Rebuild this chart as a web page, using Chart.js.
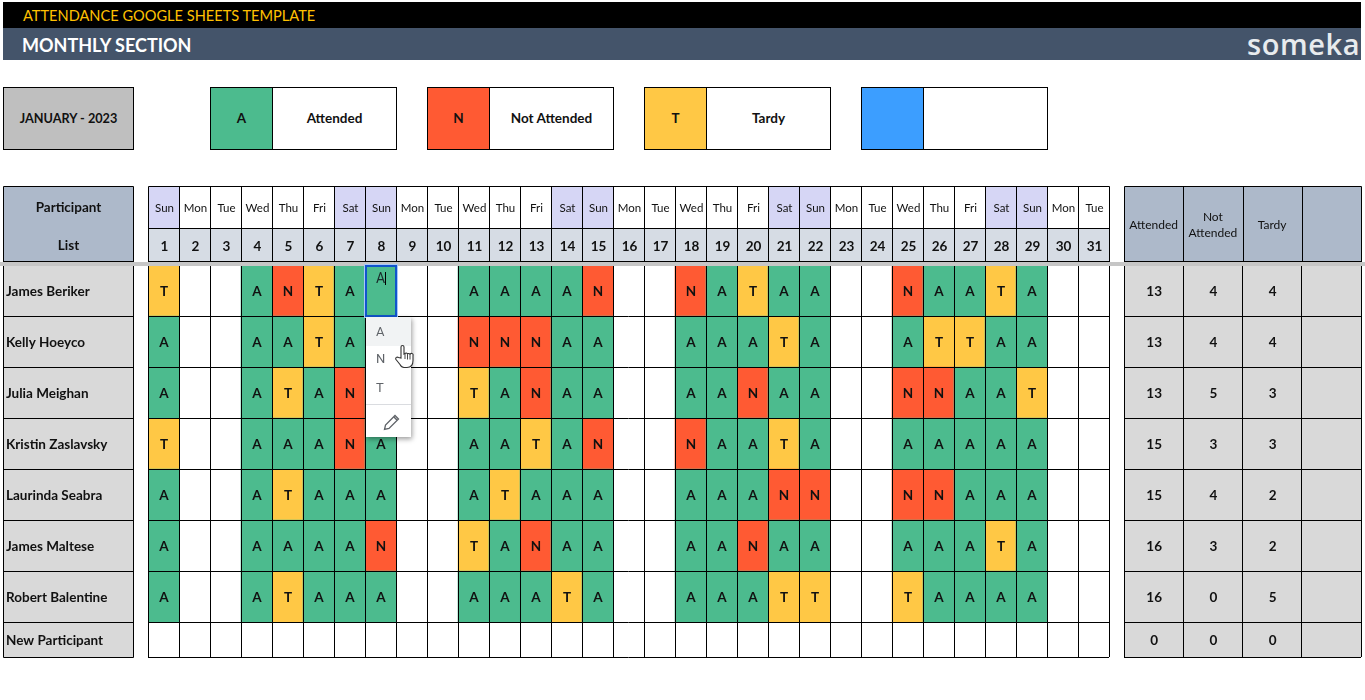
<!DOCTYPE html>
<html>
<head>
<meta charset="utf-8">
<title>Attendance</title>
<script src="https://cdn.jsdelivr.net/npm/chart.js@4"></script>
<style>
  html, body { margin: 0; padding: 0; background: #fff; width: 1365px; height: 700px; overflow: hidden; }
  body { font-family: Lato, sans-serif; color: #111; }
  .box { position: absolute; box-sizing: border-box; }
  .cell { display: flex; align-items: center; justify-content: center; font-weight: bold; font-size: 13.5px; border: 1px solid #000; padding-bottom: 2px; }
  canvas { position: absolute; top: 0; }
  .pick { position: absolute; left: 10px; font: 13px Roboto, sans-serif; color: #5f6368; transform: translateY(-50%); }
</style>
</head>
<body>
<div class="box" style="left:3px;top:2px;width:1358px;height:26px;background:#000"></div>
<div class="box" style="left:3px;top:28px;width:1358px;height:32px;background:#44546a"></div>
<div class="box" style="left:23px;top:7px;font-size:14.6px;color:#ffc000;white-space:nowrap">ATTENDANCE GOOGLE SHEETS TEMPLATE</div>
<div class="box" style="left:22px;top:34px;font-size:18px;font-weight:bold;color:#fff;white-space:nowrap">MONTHLY SECTION</div>
<div class="box" style="left:1247px;top:24px;font:600 29px 'Open Sans',sans-serif;letter-spacing:.6px;color:#e8ebee;white-space:nowrap">someka</div>

<div class="box cell" style="left:3px;top:87px;width:131px;height:63px;background:#bfbfbf;font-size:12.7px">JANUARY - 2023</div>
<div id="legend"></div>

<canvas id="sheet" width="1365" height="700" style="left:0"></canvas>
<canvas id="totals" width="245" height="700" style="left:1120px"></canvas>

<div class="box" style="left:0;top:262px;width:1365px;height:4px;background:#c6c6c6"></div>

<!-- cell being edited, with its dropdown -->
<div class="box" style="left:364px;top:264px;width:34px;height:54px;border:1px solid #a8c7fa"></div>
<div class="box" style="left:365px;top:265px;width:32px;height:52px;border:2px solid #1155cc"></div>
<div class="box" style="left:376px;top:270px;font:14px Roboto,sans-serif;color:#1a2b2b">A</div>
<div class="box" style="left:385px;top:272px;width:1px;height:13px;background:#000"></div>
<div class="box" style="left:366px;top:317px;width:45px;height:120px;background:#fff;box-shadow:1px 2px 5px rgba(0,0,0,.4)">
  <div class="box" style="left:0;top:0;width:45px;height:29px;background:#f1f3f4"></div>
  <div class="pick" style="top:14px">A</div>
  <div class="pick" style="top:41px">N</div>
  <div class="pick" style="top:70px">T</div>
  <div class="box" style="left:0;top:87px;width:45px;height:1px;background:#dadce0"></div>
  <svg class="box" style="left:17px;top:96px" width="17" height="18" viewBox="0 0 17 18">
    <path d="M1.500 16.500l1-4.500L12 2.500l3.500 3.500L6 15.500z" fill="#fff" stroke="#5f6368" stroke-width="1.300"/><path d="M11 4l3 3" stroke="#5f6368" stroke-width="1.500"/>
  </svg>
  <svg class="box" style="left:29px;top:27px" width="20" height="25" viewBox="0 0 20 25">
    <path d="M6 14V3a1.500 1.500 0 0 1 3 0v7l1-.5a1.500 1.500 0 0 1 2.500.500 1.500 1.500 0 0 1 2.500.500 1.500 1.500 0 0 1 3 1v5c0 4-2 7-6 7H9c-2 0-3-1-4-3l-4-5c-1-2 1-3 2.500-2z" fill="#fff" stroke="#333" stroke-width="1.100"/>
    <path d="M10 10v5M12.500 10.500v5M15 11.500v4" stroke="#333" stroke-width=".9"/>
  </svg>
</div>

<script>
var days = ['1','2','3','4','5','6','7','8','9','10','11','12','13','14','15','16','17','18','19','20','21','22','23','24','25','26','27','28','29','30','31'];
var dayNames = ['Sun','Mon','Tue','Wed','Thu','Fri','Sat','Sun','Mon','Tue','Wed','Thu','Fri','Sat','Sun','Mon','Tue','Wed','Thu','Fri','Sat','Sun','Mon','Tue','Wed','Thu','Fri','Sat','Sun','Mon','Tue'];
var participants = ['James Beriker','Kelly Hoeyco','Julia Meighan','Kristin Zaslavsky','Laurinda Seabra','James Maltese','Robert Balentine','New Participant'];

// one string per person, one letter per day, '.' = no entry
var jamesBeriker    = 'T..ANTAA..AAAAN..NATAA..NAATA..';
var kellyHoeyco     = 'A..AATAN..NNNAA..AAATA..ATTAA..';
var juliaMeighan    = 'A..ATANA..TANAA..AANAA..NNAAT..';
var kristinZaslavsky = 'T..AAANA..AATAN..NAATA..AAAAA..';
var laurindaSeabra  = 'A..ATAAA..ATAAA..AAANN..NNAAA..';
var jamesMaltese    = 'A..AAAAN..TANAA..AANAA..AAATA..';
var robertBalentine = 'A..ATAAA..AAATA..AAATT..TAAAA..';
var newParticipant  = '...............................';
var attendance = [jamesBeriker, kellyHoeyco, juliaMeighan, kristinZaslavsky, laurindaSeabra, jamesMaltese, robertBalentine, newParticipant];

var statusCodes = ['A', 'N', 'T'];
var statusNames = ['Attended', 'Not Attended', 'Tardy'];
var statusColors = ['#4cbb8e', '#ff5a33', '#ffc845'];
var spareColor = '#3c9eff';

var totalLabels = ['Attended', ['Not', 'Attended'], 'Tardy', ''];
var attendedTotals = [13, 13, 13, 15, 15, 16, 16, 0];
var notAttendedTotals = [4, 4, 5, 3, 4, 3, 0, 0];
var tardyTotals = [4, 4, 3, 3, 2, 2, 5, 0];

var FONT = 'Lato, sans-serif';
var INK = '#111';
var HEADER_TOP = 187;
var LAST_ROW = 392 / 51;   // new participant row is shorter than the others

function rowRange(i) { return [i, i === 7 ? LAST_ROW : i + 1]; }
var rowEdges = [0, 1, 2, 3, 4, 5, 6, 7, LAST_ROW];
var rowMiddles = participants.map(function (p, i) { var r = rowRange(i); return (r[0] + r[1]) / 2; });

/* legend boxes */
var legendLefts = [210, 427, 644, 861];
var legendHtml = '';
legendLefts.forEach(function (left, i) {
  legendHtml += '<div class="box cell" style="left:' + left + 'px;top:87px;width:63px;height:63px;background:' + (statusColors[i] || spareColor) + '">' + (statusCodes[i] || '') + '</div>' +
    '<div class="box cell" style="left:' + (left + 62) + 'px;top:87px;width:125px;height:63px">' + (statusNames[i] || '') + '</div>';
});
document.getElementById('legend').innerHTML = legendHtml;

function line(ctx, x1, y1, x2, y2) {
  ctx.beginPath();
  ctx.moveTo(Math.round(x1) + 0.5, Math.round(y1) + 0.5);
  ctx.lineTo(Math.round(x2) + 0.5, Math.round(y2) + 0.5);
  ctx.stroke();
}

/* letters written inside the bars */
var cellLetters = {
  id: 'cellLetters',
  afterDatasetsDraw: function (chart) {
    var ctx = chart.ctx;
    ctx.save();
    ctx.font = 'bold 13.5px ' + FONT;
    ctx.fillStyle = INK;
    ctx.textAlign = 'center';
    ctx.textBaseline = 'middle';
    chart.data.datasets.forEach(function (ds, d) {
      chart.getDatasetMeta(d).data.forEach(function (bar, i) {
        var raw = ds.data[i];
        if (raw.text === '' || raw.hidden) return;
        ctx.fillText(raw.text, bar.x + 0.5, (bar.y + bar.base) / 2 + 1);
      });
    });
    ctx.restore();
  }
};

/* names column and day header cells */
var sheetCells = {
  id: 'sheetCells',
  beforeDraw: function (chart) {
    var ctx = chart.ctx, a = chart.chartArea, x = chart.scales.x;
    ctx.save();
    ctx.fillStyle = '#d9d9d9';
    ctx.fillRect(3, a.top, 130, a.bottom - a.top);
    ctx.fillStyle = '#adb9ca';
    ctx.fillRect(3, HEADER_TOP, 130, a.top - HEADER_TOP);
    var w = a.width / days.length;
    dayNames.forEach(function (name, i) {
      ctx.fillStyle = (name === 'Sat' || name === 'Sun') ? '#d6d6f5' : '#fff';
      ctx.fillRect(x.getPixelForTick(i) - w / 2, HEADER_TOP, w, 41);
      ctx.fillStyle = '#d6dce4';
      ctx.fillRect(x.getPixelForTick(i) - w / 2, 228, w, 34);
    });
    ctx.font = 'bold 13.5px ' + FONT;
    ctx.fillStyle = INK;
    ctx.textAlign = 'center';
    ctx.textBaseline = 'middle';
    ctx.fillText('Participant', 68.5, 208);
    ctx.fillText('List', 68.5, 246);
    ctx.restore();
  },
  afterDraw: function (chart) {
    var ctx = chart.ctx, a = chart.chartArea;
    ctx.save();
    ctx.strokeStyle = '#000';
    ctx.lineWidth = 1;
    var w = a.width / days.length;
    for (var i = 0; i <= days.length; i++) {
      line(ctx, a.left + i * w, HEADER_TOP - 1, a.left + i * w, 262);
    }
    line(ctx, a.left, HEADER_TOP - 1, a.right, HEADER_TOP - 1);
    line(ctx, a.left, 228, a.right, 228);
    line(ctx, a.left, 261, a.right, 261);
    // names column frame
    line(ctx, 3, HEADER_TOP - 1, 133, HEADER_TOP - 1);
    line(ctx, 3, 261, 133, 261);
    line(ctx, 3, HEADER_TOP - 1, 3, a.bottom);
    line(ctx, 133, HEADER_TOP - 1, 133, a.bottom);
    rowEdges.slice(1).forEach(function (v) {
      line(ctx, 3, chart.scales.y.getPixelForValue(v), 133, chart.scales.y.getPixelForValue(v));
    });
    ctx.restore();
  }
};

var totalCells = {
  id: 'totalCells',
  beforeDraw: function (chart) {
    var a = chart.chartArea;
    chart.ctx.fillStyle = '#adb9ca';
    chart.ctx.fillRect(a.left, HEADER_TOP, a.width, 75);
  },
  afterDraw: function (chart) {
    var ctx = chart.ctx, a = chart.chartArea;
    ctx.save();
    ctx.strokeStyle = '#000';
    ctx.lineWidth = 1;
    var w = a.width / totalLabels.length;
    for (var i = 0; i <= totalLabels.length; i++) {
      line(ctx, a.left + i * w, HEADER_TOP - 1, a.left + i * w, 262);
    }
    line(ctx, a.left, HEADER_TOP - 1, a.right, HEADER_TOP - 1);
    line(ctx, a.left, 261, a.right, 261);
    ctx.restore();
  }
};

function rowAxis() {
  return {
    type: 'linear',
    reverse: true,
    min: 0,
    max: LAST_ROW,
    border: { display: false },
    afterBuildTicks: function (s) { s.ticks = rowEdges.map(function (v) { return { value: v }; }); },
    afterFit: function (s) { s.width = 0; },
    ticks: { display: false, autoSkip: false },
    grid: {
      z: 1,
      color: function (c) { return c.tick.value === 0 ? 'rgba(0,0,0,0)' : '#000'; },
      lineWidth: 1,
      drawTicks: false
    }
  };
}

function columnAxis(labels) {
  return {
    type: 'category',
    labels: labels,
    position: 'top',
    offset: true,
    border: { display: false },
    grid: { z: 1, offset: true, color: '#000', lineWidth: 1, drawTicks: false }
  };
}

// keep wide labels from pushing the chart area in
function fixHeight(h) {
  return function (s) { s.height = h; s.paddingLeft = 0; s.paddingRight = 0; };
}

/* attendance grid */
var sheetDatasets = statusCodes.map(function (code, s) {
  var cells = [];
  attendance.forEach(function (row, r) {
    row.split('').forEach(function (letter, d) {
      if (letter === code) {
        cells.push({ x: days[d], y: rowRange(r), text: letter, hidden: r === 0 && d === 7 });
      }
    });
  });
  return { label: statusNames[s], data: cells, backgroundColor: statusColors[s] };
});

var dayAxis = columnAxis(days);
dayAxis.weight = 0;
dayAxis.afterFit = fixHeight(37);
dayAxis.ticks = { color: INK, font: { family: FONT, size: 13.5, weight: 'bold' }, maxRotation: 0, autoSkip: false, padding: 10, labelOffset: 1 };

var dayNameAxis = {
  type: 'category',
  labels: dayNames.map(function (n, i) { return i; }),
  position: 'top',
  offset: true,
  weight: 1,
  border: { display: false },
  grid: { display: false, drawTicks: false },
  afterFit: fixHeight(41),
  ticks: {
    color: INK,
    font: { family: FONT, size: 11.5 },
    maxRotation: 0,
    autoSkip: false,
    padding: 13,
    labelOffset: 1,
    callback: function (v, i) { return dayNames[i]; }
  }
};

new Chart(document.getElementById('sheet'), {
  type: 'bar',
  data: { labels: days, datasets: sheetDatasets },
  options: {
    responsive: false,
    animation: false,
    layout: { padding: { left: 6, top: HEADER_TOP, right: 256, bottom: 43 } },
    plugins: { legend: { display: false }, tooltip: { enabled: false } },
    datasets: { bar: { grouped: false, barPercentage: 1, categoryPercentage: 1 } },
    scales: {
      x: dayAxis,
      xNames: dayNameAxis,
      y: rowAxis(),
      yNames: {
        type: 'linear',
        position: 'left',
        reverse: true,
        min: 0,
        max: LAST_ROW,
        border: { display: false },
        grid: { display: false, drawTicks: false },
        afterBuildTicks: function (s) { s.ticks = rowMiddles.map(function (v) { return { value: v }; }); },
        afterFit: function (s) { s.width = 142; },
        ticks: {
          color: INK,
          crossAlign: 'far',
          autoSkip: false,
          labelOffset: 1,
          font: { family: FONT, size: 13.5, weight: 'bold' },
          callback: function (v, i) { return participants[i]; }
        }
      }
    }
  },
  plugins: [sheetCells, cellLetters]
});

/* totals on the right */
var totalColumns = [attendedTotals, notAttendedTotals, tardyTotals, participants.map(function () { return ''; })];
var totalDatasets = totalColumns.map(function (values, c) {
  return {
    data: values.map(function (v, r) {
      return { x: c, y: rowRange(r), text: String(v) };
    }),
    backgroundColor: '#d9d9d9'
  };
});

var totalAxis = columnAxis(totalLabels.map(function (l, i) { return i; }));
totalAxis.afterFit = fixHeight(78);
totalAxis.ticks = {
  color: INK,
  font: { family: FONT, size: 12, lineHeight: 1.33 },
  maxRotation: 0,
  autoSkip: false,
  crossAlign: 'center',
  padding: 32,
  callback: function (v, i) { return totalLabels[i]; }
};

new Chart(document.getElementById('totals'), {
  type: 'bar',
  data: { datasets: totalDatasets },
  options: {
    responsive: false,
    animation: false,
    layout: { padding: { left: 4, top: HEADER_TOP, right: 4, bottom: 43 } },
    plugins: { legend: { display: false }, tooltip: { enabled: false } },
    datasets: { bar: { grouped: false, barPercentage: 1, categoryPercentage: 1 } },
    scales: { x: totalAxis, y: rowAxis() }
  },
  plugins: [totalCells, cellLetters]
});
</script>
</body>
</html>
